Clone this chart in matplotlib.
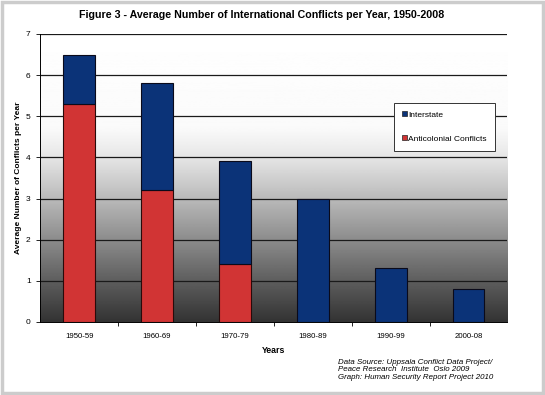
import numpy as np
import matplotlib
matplotlib.use("Agg")
import matplotlib.pyplot as plt
from matplotlib.patches import Rectangle, Patch

# data
decades = ["1950-59", "1960-69", "1970-79", "1980-89", "1990-99", "2000-08"]
anticolonial = [5.3, 3.2, 1.4, 0.0, 0.0, 0.0]
interstate = [1.2, 2.6, 2.5, 3.0, 1.3, 0.8]

blue = "#0b3378"
red = "#d13434"

fig = plt.figure(figsize=(5.45, 3.95), dpi=100)
ax = fig.add_axes([0.074, 0.185, 0.857, 0.729])

# grey gradient background (white at top, dark at the bottom)
yy = np.linspace(0, 7, 400)
shade = np.interp(yy, [0, 1, 2, 3, 4, 4.7, 7], [0.2, 0.37, 0.55, 0.73, 0.9, 0.98, 1.0])
ax.imshow(shade[:, None], cmap="gray", vmin=0, vmax=1, origin="lower",
          extent=[-0.5, len(decades) - 0.5, 0, 7], aspect="auto", zorder=0)

for v in range(1, 8):
    ax.axhline(v, color="#1a1a1a", lw=0.9, zorder=1)

x = np.arange(len(decades))
w = 0.41
ax.bar(x, anticolonial, w, color=red, edgecolor="#2a0a0a", lw=0.8, zorder=2)
ax.bar(x, interstate, w, bottom=anticolonial, color=blue, edgecolor="#0a0a1a",
       lw=0.8, zorder=2)

ax.set_xlim(-0.5, len(decades) - 0.5)
ax.set_ylim(0, 7)
ax.set_xticks(x)
ax.set_xticklabels(decades, fontsize=5.6, family="Liberation Sans")
ax.set_xticks(np.arange(0.5, len(decades) - 0.5), minor=True)
ax.tick_params(axis="x", which="major", length=0, pad=8)
ax.tick_params(axis="x", which="minor", length=3, width=0.6)
ax.set_yticks(range(8))
ax.tick_params(axis="y", labelsize=6, length=3, width=0.6, pad=4)
for t in ax.get_yticklabels():
    t.set_family("Liberation Sans")

for s in ["top", "right"]:
    ax.spines[s].set_visible(False)
ax.spines["left"].set_linewidth(0.7)
ax.spines["bottom"].set_linewidth(0.7)

ax.set_xlabel("Years", fontsize=6.3, fontweight="bold", family="Liberation Sans", labelpad=4)
ax.set_ylabel("Average Number of Conflicts per Year", fontsize=6,
              fontweight="bold", family="Liberation Sans", labelpad=3)

handles = [Patch(facecolor=blue, edgecolor="#222222", lw=0.5),
           Patch(facecolor=red, edgecolor="#222222", lw=0.5)]
leg = ax.legend(handles, ["Interstate", "Anticolonial Conflicts"],
                loc="upper right", bbox_to_anchor=(0.983, 0.775),
                prop={"family": "Liberation Sans", "size": 6},
                handlelength=0.55, handleheight=0.55, handletextpad=0.2,
                labelspacing=2.0, borderpad=1.0, fancybox=False,
                framealpha=1, edgecolor="#333333", facecolor="white")
leg.get_frame().set_linewidth(0.7)

fig.text(0.48, 0.962, "Figure 3 - Average Number of International Conflicts per Year, 1950-2008",
         ha="center", va="center", fontsize=7.7, fontweight="bold", family="Liberation Sans")
fig.text(0.62, 0.035,
         "Data Source: Uppsala Conflict Data Project/\n"
         "Peace Research  Institute  Oslo 2009\n"
         "Graph: Human Security Report Project 2010",
         ha="left", va="bottom", fontsize=5.7, style="italic", family="Liberation Sans",
         linespacing=1.15)

# light grey frame around the whole picture
fig.patches.append(Rectangle((0.003, 0.004), 0.994, 0.992, transform=fig.transFigure,
                             fill=False, edgecolor="#cccccc", lw=2.5))

fig.savefig("out.png", dpi=100)
